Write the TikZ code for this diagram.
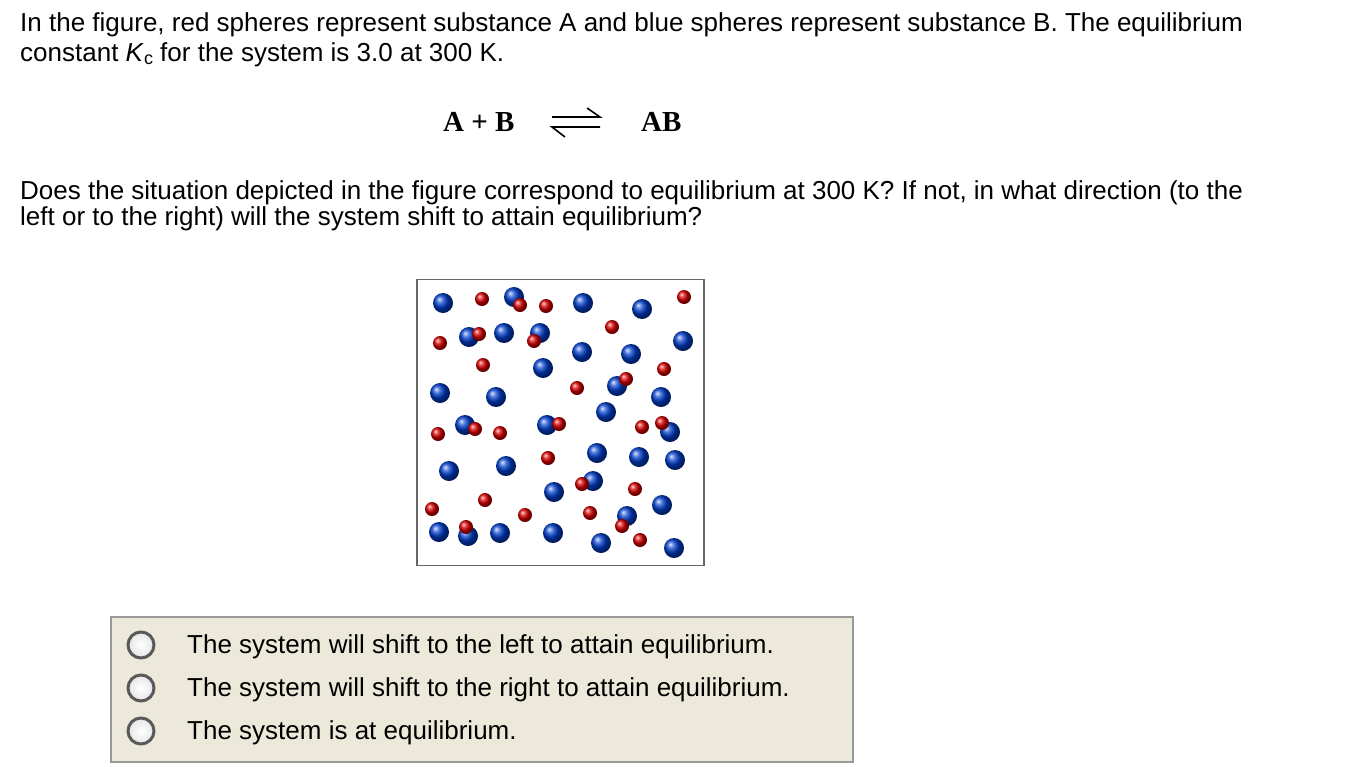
\documentclass[tikz,border=0pt]{standalone}
\usepackage{fontspec}
\setmainfont{Liberation Sans}
\newfontfamily\tms{Liberation Serif}
\begin{document}
\begin{tikzpicture}[x=1pt,y=-1pt,
  txt/.style={anchor=base west,inner sep=0pt,font=\fontsize{26}{28}\selectfont},
  bl/.style={ball color=blue!70!cyan!80!black},
  rd/.style={ball color=red!85!black},
  radio/.style={circle,draw=gray!70!black,line width=3pt,inner sep=0pt,minimum size=26pt,inner color=white,outer color=gray!20}]
\useasboundingbox (0,0) rectangle (1346,766);
\node[txt] (l1) at (20,31) {In the figure, red spheres represent substance A and blue spheres represent substance B. The equilibrium};
\node[txt] (l2) at (20,61) {constant \textit{K}\raisebox{-3pt}{\fontsize{18}{18}\selectfont c} for the system is 3.0 at 300 K.};
\node[anchor=base west,inner sep=0pt,font=\tms\bfseries\fontsize{29}{30}\selectfont] (ab1) at (443,131) {A + B};
\node[anchor=base west,inner sep=0pt,font=\tms\bfseries\fontsize{29}{30}\selectfont] (ab2) at (641,131) {AB};
\draw[line width=1.6pt] (552,117) -- (600,117) -- (587,108);
\draw[line width=1.6pt] (600,127) -- (552,127) -- (565,137);
\node[txt] (q1) at (20,199) {Does the situation depicted in the figure correspond to equilibrium at 300 K? If not, in what direction (to the};
\node[txt] (q2) at (20,225) {left or to the right) will the system shift to attain equilibrium?};
\node[draw=gray!80!black,line width=1.5pt,fill=white,minimum width=287pt,minimum height=286pt,inner sep=0pt] (box) at (560.5,422.5) {};
\foreach \x/\y in {443/303,514/297,583/303,642/309,469/337,504/333,540/333,683/341,582/352,631/354,543/368,440/393,496/397,617/386,661/397,606/412,465/425,547/425,670/432,597/453,639/457,675/460,449/471,506/466,593/481,554/492,662/505,627/516,439/532,468/536,500/533,553/533,601/543,674/548}
  \shade[bl] (\x,\y) circle (10);
\foreach \x/\y in {482/299,520/305,546/306,684/297,440/343,479/334,534/341,612/327,483/365,664/369,577/388,626/379,475/429,438/434,500/433,559/424,642/427,662/423,548/458,582/484,635/489,485/500,432/509,525/515,590/513,622/526,466/527,640/540}
  \shade[rd] (\x,\y) circle (7);
\node[draw=gray!80,line width=2pt,fill={rgb,255:red,236;green,233;blue,218},minimum width=742pt,minimum height=145pt,inner sep=0pt] (opts) at (481.5,689) {};
\node[radio] (r1) at (141,645) {};
\node[radio] (r2) at (141,688) {};
\node[radio] (r3) at (141,731) {};
\node[txt] (o1) at (187,653) {The system will shift to the left to attain equilibrium.};
\node[txt] (o2) at (187,696) {The system will shift to the right to attain equilibrium.};
\node[txt] (o3) at (187,739) {The system is at equilibrium.};
\end{tikzpicture}
\end{document}
